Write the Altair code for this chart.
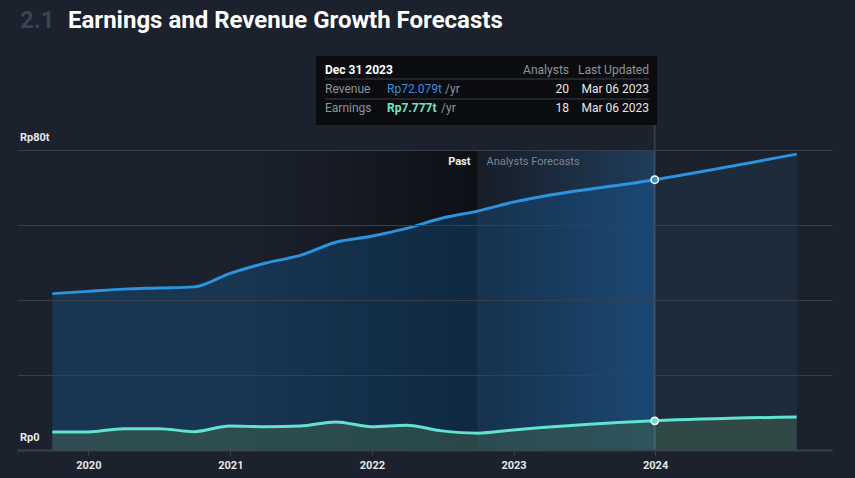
import altair as alt
import pandas as pd

# Trailing-twelve-month history and analyst consensus (IDR trillions)
dates = ["2019-09-30", "2019-12-31", "2020-03-31", "2020-06-30", "2020-09-30",
         "2020-12-31", "2021-03-31", "2021-06-30", "2021-09-30", "2021-12-31",
         "2022-03-31", "2022-06-30", "2022-09-30", "2022-12-31", "2023-12-31",
         "2024-12-31"]
revenue = [41.7, 42.3, 42.9, 43.2, 43.5, 47.1, 49.8, 51.9, 55.4, 57.0,
           59.1, 61.8, 63.7, 66.1, 72.079, 78.9]
earnings = [4.8, 4.8, 5.7, 5.7, 4.9, 6.4, 6.2, 6.4, 7.5, 6.2,
            6.6, 5.1, 4.5, 5.35, 7.777, 8.8]

last_past = "2022-09-30"
focus_date = "2023-12-31"
analysts = {"Revenue": 20, "Earnings": 18}
last_updated = "Mar 06 2023"
y_ticks = [0, 20, 40, 60, 80]
y_labels = {0: "Rp0", 80: "Rp80t"}
years = [2020, 2021, 2022, 2023, 2024]

BG = "#1b212d"
REV = "#2b93e0"
EARN = "#62e2cf"
FONT = "Roboto"

df = pd.DataFrame({"date": dates, "revenue": revenue, "earnings": earnings})
focus = df[df["date"] == focus_date].iloc[0]

xscale = alt.Scale(domain=[alt.DateTime(year=2019, month=7, date=1),
                           alt.DateTime(year=2025, month=4, date=1)])
yscale = alt.Scale(domain=[0, 80], nice=False)
xaxis = alt.Axis(values=[alt.DateTime(year=y, month=1, date=1) for y in years],
                 format="%Y", title=None, grid=False, labelColor="#e8e8e8",
                 labelFontWeight="bold", labelFontSize=11, labelFont=FONT,
                 labelPadding=4, tickColor="#3a404c", tickSize=5,
                 domainColor="#3a404c", domainWidth=2, zindex=1)
yaxis = alt.Axis(values=y_ticks, title=None, labels=False, ticks=False,
                 domain=False, grid=True, gridColor="#383e4a", gridWidth=1,
                 zindex=1)

X = alt.X("date:T", scale=xscale, axis=xaxis)
Y = alt.Y("value:Q", scale=yscale, axis=yaxis)


def hgrad(c0, c1, mid=None):
    stops = [alt.GradientStop(color=c0, offset=0)]
    if mid is not None:
        stops.append(alt.GradientStop(color=c0, offset=mid))
    stops.append(alt.GradientStop(color=c1, offset=1))
    return alt.Gradient(gradient="linear", stops=stops, x1=0, x2=1, y1=0, y2=0)


# Background bands: darkening past, highlighted forecast span
bands = pd.DataFrame({
    "date": [dates[0], last_past],
    "end": [last_past, focus_date],
    "band": ["past", "forecast"],
})
past_band = alt.Chart(bands[bands.band == "past"]).mark_rect(
    color=hgrad(BG, "#0d1015", mid=0.45)
).encode(x=X, x2="end:T", y=alt.value(0), y2=alt.value(300))
fc_band = alt.Chart(bands[bands.band == "forecast"]).mark_rect(
    color=hgrad("#171d27", "#1f3d5b")
).encode(x=X, x2="end:T", y=alt.value(0), y2=alt.value(300))

rev_df = df[["date", "revenue"]].rename(columns={"revenue": "value"})
earn_df = df[["date", "earnings"]].rename(columns={"earnings": "value"})
rev_after = rev_df[rev_df["date"] >= focus_date]

rev_area = alt.Chart(rev_df).mark_area(
    interpolate="monotone", color="#1565a8", fillOpacity=0.3
).encode(x=X, y=Y)
# span beyond the focused date is shown muted
rev_area_after = alt.Chart(rev_after).mark_area(
    interpolate="monotone", color="#1e2b3b"
).encode(x=X, y=Y)
earn_area = alt.Chart(earn_df).mark_area(
    interpolate="monotone", color="#3c5e50", fillOpacity=0.6
).encode(x=X, y=Y)

rev_line = alt.Chart(rev_df).mark_line(
    interpolate="monotone", color=REV, strokeWidth=3
).encode(x=X, y=Y)
earn_line = alt.Chart(earn_df).mark_line(
    interpolate="monotone", color=EARN, strokeWidth=3
).encode(x=X, y=Y)

focus_rule = alt.Chart(pd.DataFrame({"date": [focus_date]})).mark_rule(
    color="#ffffff", opacity=0.12, strokeWidth=2
).encode(x=X, y=alt.value(-25), y2=alt.value(300))

pts = pd.DataFrame({
    "date": [focus_date, focus_date],
    "value": [focus["revenue"], focus["earnings"]],
    "series": ["Revenue", "Earnings"],
})
points = alt.Chart(pts).mark_point(
    filled=True, size=55, stroke="#ffffff", strokeWidth=1.5, opacity=1
).encode(
    x=X, y=Y,
    fill=alt.Fill("series:N", scale=alt.Scale(domain=["Revenue", "Earnings"],
                                              range=[REV, EARN]), legend=None),
)

# Period labels either side of the last reported quarter
period = alt.Chart(pd.DataFrame({"date": [last_past], "t": ["Past"]})).mark_text(
    align="right", baseline="middle", dx=-7, font=FONT, fontSize=11,
    fontWeight="bold", color="#f0f0f0"
).encode(x=X, y=alt.value(12), text="t:N")
fc_label = alt.Chart(pd.DataFrame({"date": [last_past], "t": ["Analysts Forecasts"]})).mark_text(
    align="left", baseline="middle", dx=9, font=FONT, fontSize=11,
    color="#7d838d"
).encode(x=X, y=alt.value(12), text="t:N")

ylab = alt.Chart(pd.DataFrame({"value": list(y_labels.keys()),
                               "t": list(y_labels.values())})).mark_text(
    align="left", baseline="middle", dx=0, dy=-12, font=FONT, fontSize=11,
    fontWeight="bold", color="#e8e8e8"
).encode(x=alt.value(3), y=alt.Y("value:Q", scale=yscale, axis=yaxis), text="t:N")


def txt(s, x, y, color, size=12, weight="normal", align="left"):
    return alt.Chart(alt.Data(values=[{"t": s}])).mark_text(
        align=align, baseline="middle", font=FONT, fontSize=size,
        fontWeight=weight, color=color
    ).encode(x=alt.value(x), y=alt.value(y), text="t:N")


def hline(x0, x1, y, color="#3a3f49"):
    return alt.Chart(alt.Data(values=[{}])).mark_rule(color=color, strokeWidth=1).encode(
        x=alt.value(x0), x2=alt.value(x1), y=alt.value(y))


# Hover card for the focused forecast date
card = alt.Chart(alt.Data(values=[{}])).mark_rect(color="#0a0c10").encode(
    x=alt.value(299), x2=alt.value(640), y=alt.value(-94), y2=alt.value(-25))
GRAY = "#8e949c"
card_layers = [
    card,
    hline(308, 632, -71),
    hline(308, 632, -51),
    txt("Dec 31 2023", 308, -80, "#ffffff", weight="bold"),
    txt("Analysts", 552, -80, GRAY, align="right"),
    txt("Last Updated", 632, -80, GRAY, align="right"),
    txt("Revenue", 308, -61, GRAY),
    txt(f"Rp{focus['revenue']:.3f}t", 370, -61, "#3a8fd9"),
    txt("/yr", 428, -61, GRAY),
    txt(str(analysts["Revenue"]), 552, -61, "#e8e8e8", align="right"),
    txt(last_updated, 632, -61, "#e8e8e8", align="right"),
    txt("Earnings", 308, -42, GRAY),
    txt(f"Rp{focus['earnings']:.3f}t", 370, -42, "#6fe5c8", weight="bold"),
    txt("/yr", 424, -42, GRAY),
    txt(str(analysts["Earnings"]), 552, -42, "#e8e8e8", align="right"),
    txt(last_updated, 632, -42, "#e8e8e8", align="right"),
]

title_layers = [
    txt("2.1", 3, -129, "#3d4350", size=24, weight="bold"),
    txt("Earnings and Revenue Growth Forecasts", 51, -129, "#ffffff",
        size=24, weight="bold"),
]

chart = alt.layer(
    past_band, fc_band, rev_area, rev_area_after, earn_area, focus_rule,
    rev_line, earn_line, points, period, fc_label, ylab,
    *card_layers, *title_layers,
).properties(
    width=815, height=300,
    autosize=alt.AutoSizeParams(type="none"),
    padding={"left": 17, "top": 150, "right": 23, "bottom": 28},
    background=BG,
).configure_view(strokeWidth=0, fill=BG)

chart.save("out.html", embed_options={"renderer": "svg", "actions": False})
